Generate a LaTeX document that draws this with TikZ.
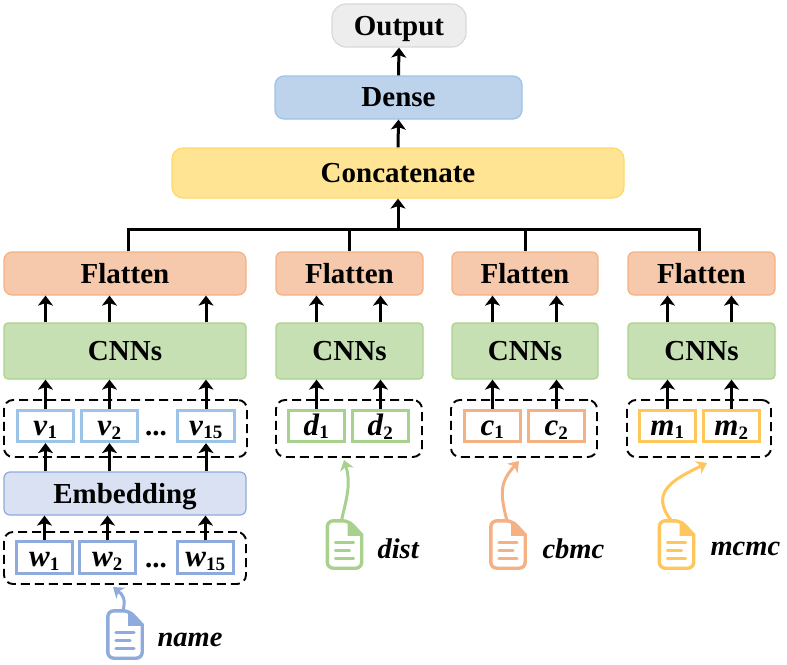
\documentclass[tikz,border=0pt]{standalone}
\usepackage{fontspec}
\setmainfont{Liberation Serif}
\usetikzlibrary{arrows.meta,positioning}
\definecolor{outfill}{HTML}{EDEDED}
\definecolor{outline}{HTML}{D9D9D9}
\definecolor{densefill}{HTML}{BDD3EC}
\definecolor{blueline}{HTML}{9DC3E6}
\definecolor{concatfill}{HTML}{FFE494}
\definecolor{concatline}{HTML}{FFD966}
\definecolor{orangefill}{HTML}{F6C9AD}
\definecolor{orangeline}{HTML}{F4B183}
\definecolor{greenfill}{HTML}{C6E0B4}
\definecolor{greenline}{HTML}{A9D18E}
\definecolor{embedfill}{HTML}{D9E1F2}
\definecolor{indigoline}{HTML}{8FAADC}
\definecolor{goldline}{HTML}{FFC65C}
\tikzset{
  every node/.style={
    font=\fontsize{29}{32}\selectfont\bfseries
  },
  layer/.style n args={4}{
    shape=rectangle,
    rounded corners=#4,
    minimum width=#1,
    minimum height=#2,
    line width=1.2pt,
    inner sep=0pt,
    text depth=0pt,
    text=black,
    #3
  },
  token/.style={
    shape=rectangle,
    draw=#1,
    line width=2.8pt,
    fill=white,
    minimum width=56.5,
    minimum height=31.5,
    text height=18pt,
    text depth=0pt,
    inner sep=0pt
  },
  ellipsis/.style={
    text height=24pt,
    text depth=0pt,
    inner sep=0pt
  },
  group/.style={
    shape=rectangle,
    draw=black,
    dashed,
    dash pattern=on 9pt off 5pt,
    line width=1.9pt,
    rounded corners=9pt,
    inner sep=0pt
  },
  arrow/.style={
    line width=3pt,
    -{Stealth[length=10pt,width=15pt,inset=2.5pt]}
  },
  bus/.style={
    line width=3pt
  },
  feed/.style={
    draw=#1,
    line width=3pt,
    -{Stealth[length=10pt,width=14pt,inset=3pt]}
  },
  docfile/.style={
    shape=rectangle,
    minimum width=34,
    minimum height=47,
    inner sep=0pt
  },
  docname/.style={
    font=\fontsize{28.5}{32}\selectfont\bfseries\itshape,
    anchor=west
  }
}
\newcommand{\idx}[2]{{\fontsize{31}{32}\selectfont\textit{#1}}\textsubscript{\fontsize{19}{20}\selectfont #2}}
% file icon drawn on a named node
\newcommand{\docicon}[2]{
  \draw [#2,line width=3.4pt,fill=white,rounded corners=6pt]
    (#1.north west) -- ([xshift=-13]#1.north east) [sharp corners] -- ([yshift=-14]#1.north east)
    [rounded corners=6pt] -- (#1.south east) -- (#1.south west) -- cycle;
  \fill [#2] ([xshift=-14]#1.north east) -- ([yshift=-15]#1.north east) -- ([xshift=-14,yshift=-15]#1.north east) -- cycle;
  \draw [#2,line width=3pt,line cap=round] ([xshift=8,yshift=-22]#1.north west) -- ([xshift=-8,yshift=-22]#1.north east);
  \draw [#2,line width=3pt,line cap=round] ([xshift=8,yshift=-30]#1.north west) -- ([xshift=-12,yshift=-30]#1.north east);
  \draw [#2,line width=3pt,line cap=round] ([xshift=8,yshift=-38]#1.north west) -- ([xshift=-8,yshift=-38]#1.north east);
}

\begin{document}
\begin{tikzpicture}[x=1pt,y=-1pt]
  \useasboundingbox (0,0) rectangle (787,664);

  % dashed groups first
  \node [group,minimum width=243,minimum height=57] (groupv) at (125.5,428.5) {};
  \node [group,minimum width=242,minimum height=52] (groupw) at (125,558) {};
  \node [group,minimum width=146,minimum height=57] (groupd) at (349,428.5) {};
  \node [group,minimum width=146,minimum height=57] (groupc) at (524,428.5) {};
  \node [group,minimum width=144,minimum height=57] (groupm) at (699,428.5) {};

  % top of the network
  \node [layer={134}{43}{draw=outline,fill=outfill}{14pt}] (output) at (399,25.5) {Output};
  \node [layer={247}{43}{draw=blueline,fill=densefill}{9pt}] (dense) at (398.5,97.5) {Dense};
  \node [layer={452}{50}{draw=concatline,fill=concatfill}{11pt}] (concat) at (398,173) {Concatenate};

  \node [layer={242}{43}{draw=orangeline,fill=orangefill}{8pt}] (flat1) at (125,273.5) {Flatten};
  \node [layer={147}{43}{draw=orangeline,fill=orangefill}{6pt}] (flat2) at (349.5,273.5) {Flatten};
  \node [layer={146}{43}{draw=orangeline,fill=orangefill}{6pt}] (flat3) at (525,273.5) {Flatten};
  \node [layer={147}{43}{draw=orangeline,fill=orangefill}{6pt}] (flat4) at (701.5,273.5) {Flatten};

  \node [layer={242}{56}{draw=greenline,fill=greenfill}{4pt}] (cnn1) at (125,351) {CNNs};
  \node [layer={147}{56}{draw=greenline,fill=greenfill}{4pt}] (cnn2) at (349.5,351) {CNNs};
  \node [layer={146}{56}{draw=greenline,fill=greenfill}{4pt}] (cnn3) at (525,351) {CNNs};
  \node [layer={147}{56}{draw=greenline,fill=greenfill}{4pt}] (cnn4) at (701.5,351) {CNNs};

  \node [layer={242}{43}{draw=indigoline,fill=embedfill}{6pt}] (embed) at (125,493.5) {Embedding};

  % tokens
  \node [token=blueline] (v1) at (45.5,426) {\idx{v}{1}};
  \node [token=blueline] (v2) at (109.5,426) {\idx{v}{2}};
  \node [ellipsis] (vdots) at (156,423) {...};
  \node [token=blueline] (v15) at (206,426) {\idx{v}{15}};
  \node [token=indigoline] (w1) at (44.5,557.5) {\idx{w}{1}};
  \node [token=indigoline] (w2) at (107.5,557.5) {\idx{w}{2}};
  \node [ellipsis] (wdots) at (156,555) {...};
  \node [token=indigoline] (w15) at (205.5,557.5) {\idx{w}{15}};
  \node [token=greenline] (d1) at (316.5,426) {\idx{d}{1}};
  \node [token=greenline] (d2) at (380.5,426) {\idx{d}{2}};
  \node [token=orangeline] (c1) at (492.5,426) {\idx{c}{1}};
  \node [token=orangeline] (c2) at (556.5,426) {\idx{c}{2}};
  \node [token=goldline] (m1) at (667.5,426) {\idx{m}{1}};
  \node [token=goldline] (m2) at (731.5,426) {\idx{m}{2}};

  % files
  \node [docfile] (docn) at (125,634.5) {};
  \node [docfile] (docd) at (344.5,544.5) {};
  \node [docfile] (docc) at (508,544.5) {};
  \node [docfile] (docm) at (676.5,544.5) {};
  \docicon{docn}{indigoline}
  \docicon{docd}{greenline}
  \docicon{docc}{orangeline}
  \docicon{docm}{goldline}
  \node [docname] (labn) at (154,640) {name};
  \node [docname] (labd) at (374,549) {dist};
  \node [docname] (labc) at (539,549) {cbmc};
  \node [docname] (labm) at (707,549) {mcmc};

  % connectors
  \coordinate (busin) at (concat.south |- 0,229);
  \draw [bus] ([xshift=3]flat1.north) |- ([xshift=-2]flat4.north |- busin) -- ([xshift=-2]flat4.north);
  \draw [bus] (flat2.north) -- (flat2.north |- busin);
  \draw [bus] (flat3.north) -- (flat3.north |- busin);
  \draw [arrow] (busin) -- (concat.south);
  \draw [arrow] (concat.north) -- (dense.south);
  \draw [arrow] (dense.north) -- (output.south);

  \draw [arrow] (cnn1.north -| v1) -- (flat1.south -| v1);
  \draw [arrow] (cnn1.north -| v2) -- (flat1.south -| v2);
  \draw [arrow] (cnn1.north -| v15) -- (flat1.south -| v15);
  \draw [arrow] (cnn2.north -| d1) -- (flat2.south -| d1);
  \draw [arrow] (cnn2.north -| d2) -- (flat2.south -| d2);
  \draw [arrow] (cnn3.north -| c1) -- (flat3.south -| c1);
  \draw [arrow] (cnn3.north -| c2) -- (flat3.south -| c2);
  \draw [arrow] (cnn4.north -| m1) -- (flat4.south -| m1);
  \draw [arrow] (cnn4.north -| m2) -- (flat4.south -| m2);

  \draw [arrow] (v1.north) -- (cnn1.south -| v1);
  \draw [arrow] (v2.north) -- (cnn1.south -| v2);
  \draw [arrow] (v15.north) -- (cnn1.south -| v15);
  \draw [arrow] (d1.north) -- (cnn2.south -| d1);
  \draw [arrow] (d2.north) -- (cnn2.south -| d2);
  \draw [arrow] (c1.north) -- (cnn3.south -| c1);
  \draw [arrow] (c2.north) -- (cnn3.south -| c2);
  \draw [arrow] (m1.north) -- (cnn4.south -| m1);
  \draw [arrow] (m2.north) -- (cnn4.south -| m2);

  \draw [arrow] (embed.north -| v1) -- (v1.south);
  \draw [arrow] (embed.north -| v2) -- (v2.south);
  \draw [arrow] (embed.north -| v15) -- (v15.south);
  \draw [arrow] (w1.north) -- (embed.south -| w1);
  \draw [arrow] (w2.north) -- (embed.south -| w2);
  \draw [arrow] (w15.north) -- (embed.south -| w15);

  \draw [feed=indigoline] ([xshift=-2]docn.north) .. controls +(3,-12) and +(10,8) .. (113,587);
  \draw [feed=greenline] ([xshift=-3]docd.north) .. controls +(3,-16) and +(8,26) .. (344,460);
  \draw [feed=orangeline] ([xshift=-1]docc.north) .. controls +(-8,-30) and +(-18,20) .. (519,461);
  \draw [feed=goldline] ([xshift=-5]docm.north) .. controls +(-24,-30) and +(-30,15) .. (707,463);
\end{tikzpicture}
\end{document}
